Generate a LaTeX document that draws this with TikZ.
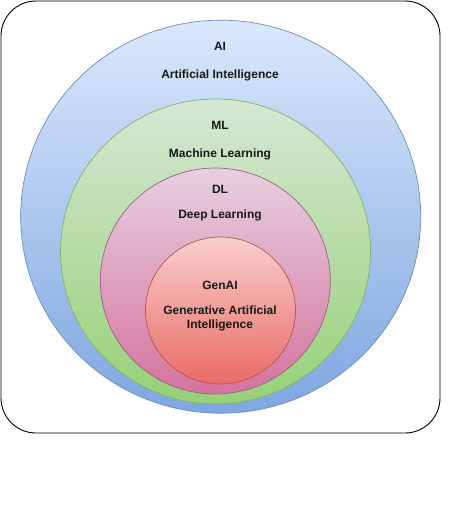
\documentclass[tikz,border=0pt]{standalone}
\usepackage{fontspec}
\setmainfont{Liberation Sans}
\usepackage{tikz}
\usetikzlibrary{shapes.geometric,positioning}

\definecolor{aiTop}{HTML}{DAE8FC}
\definecolor{aiBot}{HTML}{7EA6E0}
\definecolor{aiLine}{HTML}{6C8EBF}
\definecolor{mlTop}{HTML}{D5E8D4}
\definecolor{mlBot}{HTML}{97D077}
\definecolor{mlLine}{HTML}{82B366}
\definecolor{dlTop}{HTML}{E6D0DE}
\definecolor{dlBot}{HTML}{D5739D}
\definecolor{dlLine}{HTML}{996185}
\definecolor{genTop}{HTML}{F8CECC}
\definecolor{genBot}{HTML}{EA6B66}
\definecolor{genLine}{HTML}{B85450}

\begin{document}
\begin{tikzpicture}[x=1pt, y=-1pt, every node/.style={font=\bfseries\fontsize{12}{14.5}\selectfont, text=black!90}, set/.style={ellipse, draw, line width=0.7pt, inner sep=0pt}, lbl/.style={inner sep=0pt, align=center}]
\useasboundingbox (0,0) rectangle (471,531);
\draw[line width=0.9pt, rounded corners=35pt] (1,1) rectangle (440,433);
\node[set, top color=aiTop, bottom color=aiBot, draw=aiLine, minimum width=400pt, minimum height=393pt] (ai) at (220.7,216.7) {};
\node[set, top color=mlTop, bottom color=mlBot, draw=mlLine, minimum width=310pt, minimum height=305pt] (ml) at (215.5,251.5) {};
\node[set, top color=dlTop, bottom color=dlBot, draw=dlLine, minimum width=230pt, minimum height=226pt] (dl) at (215.3,281) {};
\node[set, top color=genTop, bottom color=genBot, draw=genLine, minimum width=150pt, minimum height=147pt] (gen) at (220.5,310.5) {};
\node[lbl] (aiA) at (220,46) {AI};
\node[lbl] (aiB) at (220,75) {Artificial Intelligence};
\node[lbl] (mlA) at (220,125.5) {ML};
\node[lbl] (mlB) at (220,154) {Machine Learning};
\node[lbl] (dlA) at (220,189.5) {DL};
\node[lbl] (dlB) at (220,215.5) {Deep Learning};
\node[lbl] (genA) at (220,285.5) {GenAI};
\node[lbl] (genB) at (220,318.5) {Generative Artificial\\Intelligence};
\end{tikzpicture}
\end{document}
